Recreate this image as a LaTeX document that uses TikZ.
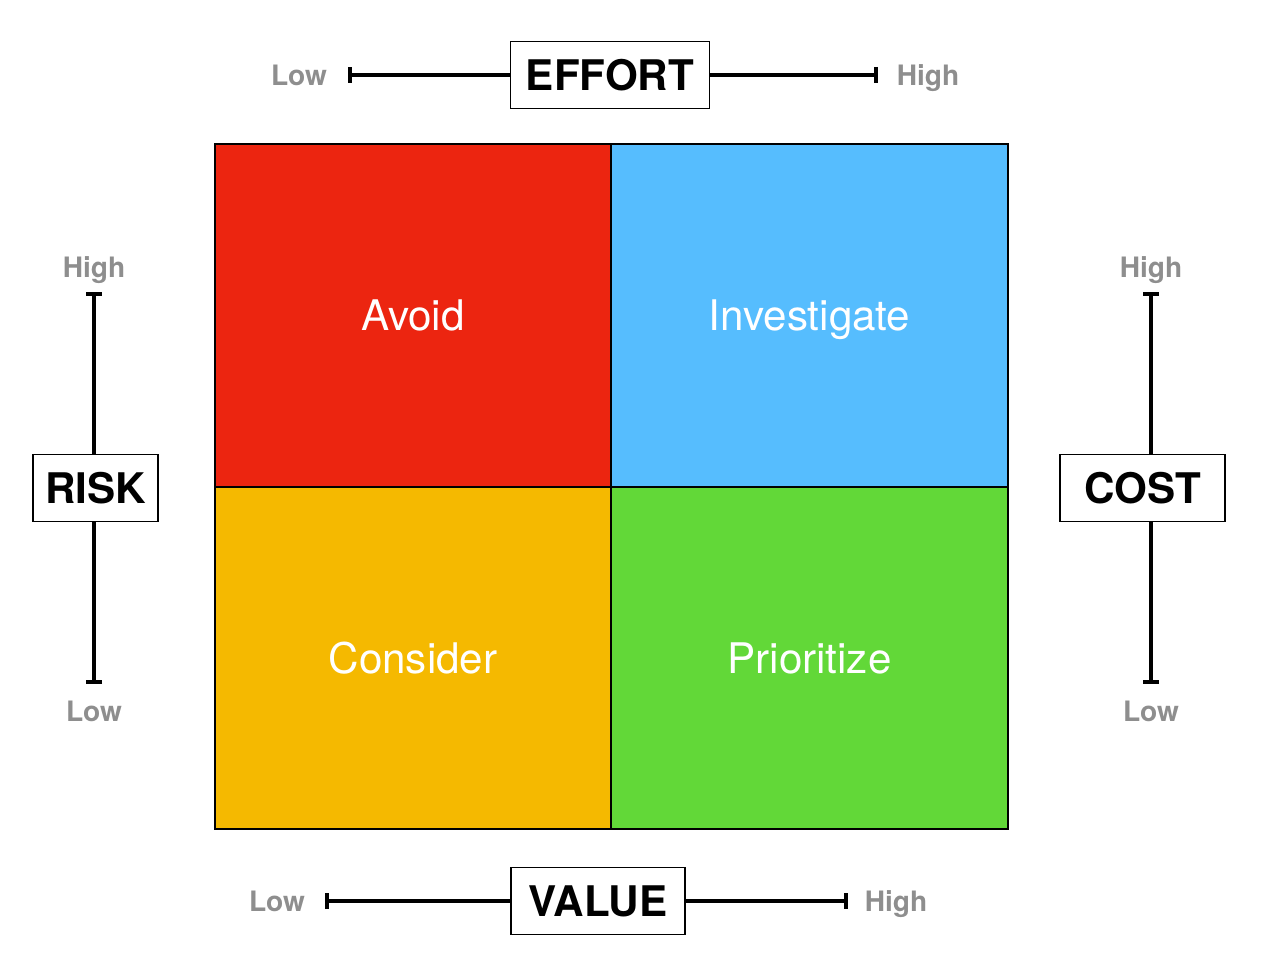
\documentclass[tikz,border=0pt]{standalone}
\usepackage{fontspec}
\setmainfont{TeX Gyre Heros}
\usepackage{tikz}
\usetikzlibrary{positioning}
\usetikzlibrary{arrows, arrows.meta}
\definecolor{avoidred}{HTML}{EC2510}
\definecolor{investblue}{HTML}{56BDFE}
\definecolor{considerorange}{HTML}{F5B900}
\definecolor{prioritygreen}{HTML}{62D838}
\definecolor{scalegray}{HTML}{8E8E8E}
\tikzset{
	axisbox/.style={draw,line width=1.1pt,fill=white,inner sep=0pt,minimum height=1.34cm,text height=17.3pt,text depth=0pt,font=\fontsize{24}{28}\selectfont\bfseries},
	axisline/.style={line width=2.1pt,-{Bar[width=3.2mm]}},
	scaletxt/.style={text=scalegray,text height=11.5pt,text depth=0pt,font=\fontsize{16}{19}\selectfont\bfseries},
	quad/.style={draw,line width=1pt,inner sep=0pt,outer sep=0pt,minimum width=7.93cm,minimum height=6.85cm,text height=17.3pt,text depth=0pt,text=white,font=\fontsize{24}{28}\selectfont}
}

\begin{document}
\begin{tikzpicture}[x=0.02cm,y=-0.02cm]
	\useasboundingbox (0,0) rectangle (1263,959);
	
	%QUADRANTS
	\node[quad,fill=avoidred] (avoid) at (413,315.5) {Avoid};
	\node[quad,fill=investblue] (investigate) at (809.5,315.5) {Investigate};
	\node[quad,fill=considerorange] (consider) at (413,658) {Consider};
	\node[quad,fill=prioritygreen] (prioritize) at (809.5,658) {Prioritize};
	\draw[line width=1.1pt] (avoid.north west) rectangle (prioritize.south east);
	
	%EFFORT (TOP)
	\node[axisbox,minimum width=3.98cm] (effort) at (610,75) {EFFORT};
	\coordinate (effortLo) at (348,75);
	\coordinate (effortHi) at (878,75);
	\draw[axisline] (effort.west)--(effortLo);
	\draw[axisline] (effort.east)--(effortHi);
	\node[scaletxt] (effortLoTxt) at (299,75) {Low};
	\node[scaletxt] (effortHiTxt) at (928,75) {High};
	
	%VALUE (BOTTOM)
	\node[axisbox,minimum width=3.48cm] (value) at (598,901) {VALUE};
	\coordinate (valueLo) at (325,901);
	\coordinate (valueHi) at (848,901);
	\draw[axisline] (value.west)--(valueLo);
	\draw[axisline] (value.east)--(valueHi);
	\node[scaletxt] (valueLoTxt) at (277,901) {Low};
	\node[scaletxt] (valueHiTxt) at (896,901) {High};
	
	%RISK (LEFT)
	\node[axisbox,minimum width=2.5cm] (risk) at (95.5,488) {RISK};
	\coordinate (riskHi) at (94,292);
	\coordinate (riskLo) at (94,684);
	\draw[axisline] (risk.north-|riskHi)--(riskHi);
	\draw[axisline] (risk.south-|riskLo)--(riskLo);
	\node[scaletxt] (riskHiTxt) at (94,267) {High};
	\node[scaletxt] (riskLoTxt) at (94,711) {Low};
	
	%COST (RIGHT)
	\node[axisbox,minimum width=3.3cm] (cost) at (1142.5,488) {COST};
	\coordinate (costHi) at (1151,292);
	\coordinate (costLo) at (1151,684);
	\draw[axisline] (cost.north-|costHi)--(costHi);
	\draw[axisline] (cost.south-|costLo)--(costLo);
	\node[scaletxt] (costHiTxt) at (1151,267) {High};
	\node[scaletxt] (costLoTxt) at (1151,711) {Low};
\end{tikzpicture}
\end{document}
